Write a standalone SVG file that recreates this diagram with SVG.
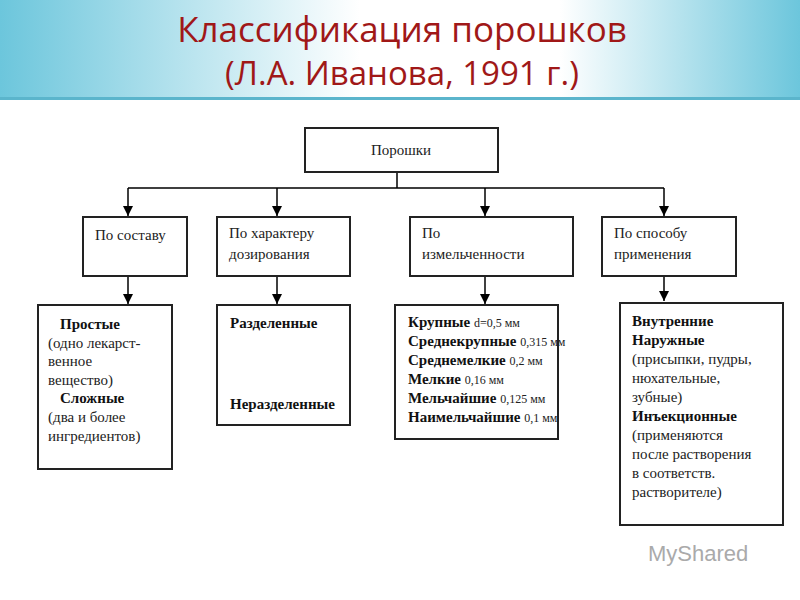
<svg xmlns="http://www.w3.org/2000/svg" width="800" height="600" viewBox="0 0 800 600">
<defs>
<linearGradient id="hg" x1="0" y1="0" x2="1" y2="0">
<stop offset="0" stop-color="#6cc6dc"/><stop offset="0.45" stop-color="#ffffff"/><stop offset="0.7" stop-color="#ffffff"/><stop offset="1" stop-color="#6cc6dc"/>
</linearGradient>
<marker id="ar" viewBox="0 0 10 10" refX="10" refY="5" markerWidth="7" markerHeight="7" orient="auto"><path d="M0,0L10,5L0,10z" fill="#000"/></marker>
<style>
.box{fill:#fff;stroke:#222;stroke-width:2}
.t{font-family:"Liberation Serif",serif;font-size:15px;fill:#222}
.b{font-family:"Liberation Serif",serif;font-size:15px;font-weight:bold;fill:#111}
.s{font-family:"Liberation Serif",serif;font-size:12px;fill:#222}
.ttl{font-family:"Open Sans","Liberation Sans",sans-serif;fill:#a01818;text-anchor:middle}
.c{stroke:#000;stroke-width:1.5;fill:none}
</style>
</defs>
<rect width="800" height="600" fill="#fff"/>
<rect x="0" y="0" width="800" height="100" fill="url(#hg)"/>
<rect x="0" y="97" width="800" height="3" fill="#5bb5cc"/>
<text class="ttl" x="402" y="42" font-size="35">Классификация порошков</text>
<text class="ttl" x="402" y="85" font-size="33">(Л.А. Иванова, 1991 г.)</text>
<g id="connectors">
<path class="c" d="M397,172V188M128,188H664"/>
<path class="c" d="M128,188V216" marker-end="url(#ar)"/>
<path class="c" d="M277,188V216" marker-end="url(#ar)"/>
<path class="c" d="M485,188V216" marker-end="url(#ar)"/>
<path class="c" d="M664,188V216" marker-end="url(#ar)"/>
<path class="c" d="M128,276V304" marker-end="url(#ar)"/>
<path class="c" d="M277,276V304" marker-end="url(#ar)"/>
<path class="c" d="M485,276V304" marker-end="url(#ar)"/>
<path class="c" d="M664,276V301" marker-end="url(#ar)"/>
</g>
<g id="root"><rect class="box" x="305" y="128" width="193" height="44"/><text class="t" x="401" y="155" text-anchor="middle">Порошки</text></g>
<g id="n1"><rect class="box" x="83" y="217" width="104" height="59"/><text class="t" x="95" y="240">По составу</text></g>
<g id="n2"><rect class="box" x="217" y="217" width="133" height="59"/><text class="t" x="229" y="238">По характеру</text><text class="t" x="229" y="259">дозирования</text></g>
<g id="n3"><rect class="box" x="410" y="217" width="163" height="59"/><text class="t" x="422" y="238">По</text><text class="t" x="422" y="259">измельченности</text></g>
<g id="n4"><rect class="box" x="602" y="217" width="134" height="59"/><text class="t" x="614" y="238">По способу</text><text class="t" x="614" y="259">применения</text></g>
<g id="d1"><rect class="box" x="38" y="305" width="134" height="164"/>
<text class="b" x="60" y="329">Простые</text>
<text class="t" x="48" y="348">(одно лекарст-</text>
<text class="t" x="48" y="366">венное</text>
<text class="t" x="48" y="385">вещество)</text>
<text class="b" x="60" y="403">Сложные</text>
<text class="t" x="48" y="422">(два и более</text>
<text class="t" x="48" y="441">ингредиентов)</text></g>
<g id="d2"><rect class="box" x="217" y="305" width="133" height="120"/>
<text class="b" x="230" y="328">Разделенные</text>
<text class="b" x="230" y="409">Неразделенные</text></g>
<g id="d3"><rect class="box" x="395" y="305" width="163" height="134"/>
<text class="b" x="408" y="327">Крупные <tspan class="s" font-weight="normal">d=0,5 мм</tspan></text>
<text class="b" x="408" y="346">Среднекрупные <tspan class="s" font-weight="normal">0,315 мм</tspan></text>
<text class="b" x="408" y="365">Среднемелкие <tspan class="s" font-weight="normal">0,2 мм</tspan></text>
<text class="b" x="408" y="384">Мелкие <tspan class="s" font-weight="normal">0,16 мм</tspan></text>
<text class="b" x="408" y="403">Мельчайшие <tspan class="s" font-weight="normal">0,125 мм</tspan></text>
<text class="b" x="408" y="422">Наимельчайшие <tspan class="s" font-weight="normal">0,1 мм</tspan></text></g>
<g id="d4"><rect class="box" x="620" y="303" width="163" height="222"/>
<text class="b" x="632" y="326">Внутренние</text>
<text class="b" x="632" y="345">Наружные</text>
<text class="t" x="632" y="364">(присыпки, пудры,</text>
<text class="t" x="632" y="383">нюхательные,</text>
<text class="t" x="632" y="402">зубные)</text>
<text class="b" x="632" y="421">Инъекционные</text>
<text class="t" x="632" y="440">(применяются</text>
<text class="t" x="632" y="459">после растворения</text>
<text class="t" x="632" y="478">в соответств.</text>
<text class="t" x="632" y="497">растворителе)</text></g>
<text x="648" y="561" font-family="Liberation Sans,sans-serif" font-size="22" fill="#aaa">MyShared</text>
</svg>
